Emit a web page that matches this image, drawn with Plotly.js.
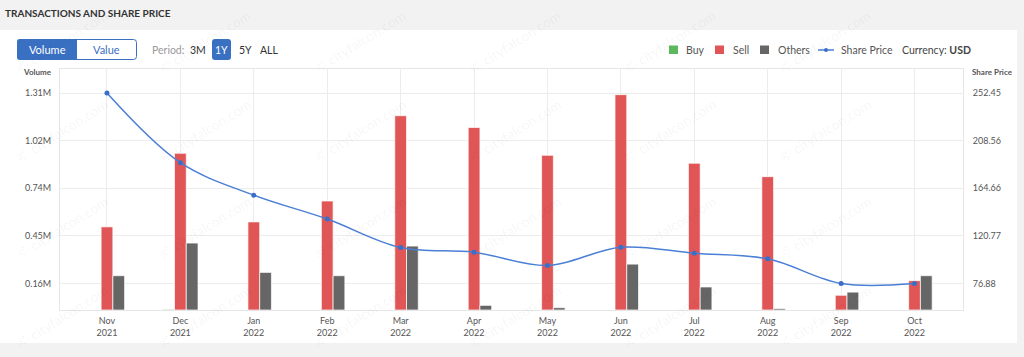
<!DOCTYPE html>
<html>
<head>
<meta charset="utf-8">
<script src="https://cdn.plot.ly/plotly-3.0.1.min.js"></script>
<style>
html,body{margin:0;padding:0;background:#f2f2f2;}
#chart{width:1024px;height:357px;}
</style>
</head>
<body>
<div id="chart"></div>
<script>
// ---- data ----
const months = ['Nov','Dec','Jan','Feb','Mar','Apr','May','Jun','Jul','Aug','Sep','Oct'];
const years  = ['2021','2021','2022','2022','2022','2022','2022','2022','2022','2022','2022','2022'];
const buyVolume    = [0, 4000, 0, 0, 0, 0, 0, 0, 0, 0, 0, 0];
const sellVolume   = [502000, 946000, 532000, 658000, 1173000, 1102000, 934000, 1300000, 886000, 805000, 89000, 177000];
const othersVolume = [207000, 404000, 227000, 207000, 386000, 28000, 14000, 277000, 139000, 8000, 108000, 207000];
const sharePrice   = [252.45, 188.2, 158.3, 136.3, 110.0, 105.7, 93.4, 110.3, 104.8, 99.6, 76.88, 76.9];
const volTickVals  = [160000, 447500, 735000, 1022500, 1310000];
const volTickText  = ['0.16M','0.45M','0.74M','1.02M','1.31M'];
const priceTickVals = [76.88, 120.77, 164.66, 208.56, 252.45];
const priceTickText = ['76.88','120.77','164.66','208.56','252.45'];

const cats = months.map((m,i)=> m + '<br>' + years[i]);

// ---- geometry helpers (pixel -> paper) ----
const L = 60, R = 963, T = 69, B = 310;
const W = R - L, H = B - T;
const px = x => (x - L) / W;
const py = y => (B - y) / H;

function roundRect(x0, y0, x1, y1, r) {
  const rx = r / W, ry = r / H;
  const a = px(x0), b = px(x1), top = py(y0), bot = py(y1);
  return `M ${a+rx},${top} L ${b-rx},${top} Q ${b},${top} ${b},${top-ry} L ${b},${bot+ry} Q ${b},${bot} ${b-rx},${bot} L ${a+rx},${bot} Q ${a},${bot} ${a},${bot+ry} L ${a},${top-ry} Q ${a},${top} ${a+rx},${top} Z`;
}

const blue = '#3a70c2';
const FONT = 'Lato, "Open Sans", sans-serif';

const traces = [
  {type:'bar', name:'Buy', x:cats, y:buyVolume, marker:{color:'#5cb85c', line:{color:'rgba(255,255,255,0.7)', width:1}}, hoverinfo:'y'},
  {type:'bar', name:'Sell', x:cats, y:sellVolume, marker:{color:'#e05555', line:{color:'rgba(255,255,255,0.7)', width:1}}, hoverinfo:'y'},
  {type:'bar', name:'Others', x:cats, y:othersVolume, marker:{color:'#666666', line:{color:'rgba(255,255,255,0.7)', width:1}}, hoverinfo:'y'},
  {type:'scatter', name:'Share Price', x:cats, y:sharePrice, yaxis:'y2', mode:'lines+markers',
   line:{color:'#4a7fd6', width:1.5, shape:'spline', smoothing:1}, marker:{color:'#3a6fc8', size:5}}
];

const shapes = [
  // white panel
  {type:'rect', xref:'paper', yref:'paper', x0:px(0), x1:px(1017), y0:py(343), y1:py(30),
   fillcolor:'#ffffff', line:{width:0}, layer:'below'},
  // Volume / Value toggle
  {type:'path', xref:'paper', yref:'paper', path:roundRect(17.5,39.5,136.5,59.5,3), fillcolor:'#ffffff', line:{color:blue, width:1}},
  {type:'path', xref:'paper', yref:'paper', path:roundRect(17,39,77,60,3), fillcolor:blue, line:{width:0}},
  {type:'rect', xref:'paper', yref:'paper', x0:px(70), x1:px(77), y0:py(60), y1:py(39), fillcolor:blue, line:{width:0}},
  // 1Y button
  {type:'path', xref:'paper', yref:'paper', path:roundRect(212,39,231,60,3), fillcolor:blue, line:{width:0}},
  // legend markers
  {type:'rect', xref:'paper', yref:'paper', x0:px(669), x1:px(678), y0:py(54), y1:py(45.5), fillcolor:'#5cb85c', line:{width:0}},
  {type:'rect', xref:'paper', yref:'paper', x0:px(715), x1:px(724), y0:py(54), y1:py(45.5), fillcolor:'#e05555', line:{width:0}},
  {type:'rect', xref:'paper', yref:'paper', x0:px(760), x1:px(769), y0:py(54), y1:py(45.5), fillcolor:'#666666', line:{width:0}},
  {type:'line', xref:'paper', yref:'paper', x0:px(818), x1:px(834), y0:py(50), y1:py(50), line:{color:'#4a7fd6', width:1.5}},
  {type:'circle', xref:'paper', yref:'paper', x0:px(824), x1:px(828), y0:py(52), y1:py(48), fillcolor:'#3a6fc8', line:{width:0}}
];

function ann(x, y, text, opts) {
  return Object.assign({xref:'paper', yref:'paper', x:px(x), y:py(y), text:text, showarrow:false,
    xanchor:'left', yanchor:'middle', font:{family:FONT, size:10.5, color:'#555'}}, opts || {});
}

const annotations = [];

// watermarks (drawn first so the other texts sit on top)
const wmCols = [62, 205, 360, 515, 670, 825];
const wmRows = [42, 130, 227, 316];
wmRows.forEach(r => wmCols.forEach(c => {
  annotations.push({xref:'paper', yref:'paper', x:px(c), y:py(r), text:'© cityfalcon.com', showarrow:false,
    textangle:-32, xanchor:'center', yanchor:'middle', font:{family:FONT, size:14, color:'rgba(0,0,0,0.05)'}});
}));

annotations.push(
  ann(3, 13, '<b>TRANSACTIONS AND SHARE PRICE</b>', {font:{family:FONT, size:10, color:'#333'}}),
  ann(47, 49.5, 'Volume', {xanchor:'center', font:{family:FONT, size:11, color:'#ffffff'}}),
  ann(106.5, 49.5, 'Value', {xanchor:'center', font:{family:FONT, size:11, color:blue}}),
  ann(150, 49.5, 'Period:', {font:{family:FONT, size:10.5, color:'#9a9a9a'}}),
  ann(197.5, 49.5, '3M', {xanchor:'center', font:{family:FONT, size:10.5, color:'#333'}}),
  ann(221.5, 49.5, '1Y', {xanchor:'center', font:{family:FONT, size:10.5, color:'#ffffff'}}),
  ann(245.5, 49.5, '5Y', {xanchor:'center', font:{family:FONT, size:10.5, color:'#333'}}),
  ann(269.5, 49.5, 'ALL', {xanchor:'center', font:{family:FONT, size:10.5, color:'#333'}}),
  ann(684, 49.5, 'Buy'),
  ann(731, 49.5, 'Sell'),
  ann(776, 49.5, 'Others'),
  ann(839, 49.5, 'Share Price'),
  ann(900, 49.5, 'Currency: <b>USD</b>', {font:{family:FONT, size:10.5, color:'#444'}}),
  ann(54, 72.5, '<b>Volume</b>', {xanchor:'right', font:{family:FONT, size:8, color:'#555'}}),
  ann(970, 72.5, '<b>Share Price</b>', {font:{family:FONT, size:8, color:'#555'}})
);

const layout = {
  width:1024, height:357,
  margin:{l:L, r:1024-R, t:T, b:357-B, pad:0},
  paper_bgcolor:'#f2f2f2', plot_bgcolor:'rgba(0,0,0,0)',
  font:{family:FONT, size:9, color:'#555'},
  showlegend:false,
  barmode:'group', bargap:0.52, bargroupgap:0,
  xaxis:{type:'category', range:[-0.64, 11.66], showgrid:true, gridcolor:'#ececec', gridwidth:1,
    showline:true, linecolor:'#e6e6e6', mirror:true, zeroline:false,
    ticks:'outside', ticklen:2, tickcolor:'rgba(0,0,0,0)', tickfont:{family:FONT, size:9, color:'#555'}},
  yaxis:{range:[0, 1455000], tickvals:volTickVals, ticktext:volTickText, showgrid:true, gridcolor:'#ececec',
    showline:true, linecolor:'#e6e6e6', mirror:true, zeroline:false,
    ticks:'outside', ticklen:6, tickcolor:'rgba(0,0,0,0)', tickfont:{family:FONT, size:9, color:'#555'}},
  yaxis2:{overlaying:'y', side:'right', range:[52.44, 274.6], tickvals:priceTickVals, ticktext:priceTickText,
    showgrid:false, zeroline:false, showline:false,
    ticks:'outside', ticklen:7, tickcolor:'rgba(0,0,0,0)', tickfont:{family:FONT, size:9, color:'#555'}},
  shapes:shapes,
  annotations:annotations
};

Plotly.newPlot('chart', traces, layout, {displayModeBar:false, staticPlot:true});
</script>
</body>
</html>
